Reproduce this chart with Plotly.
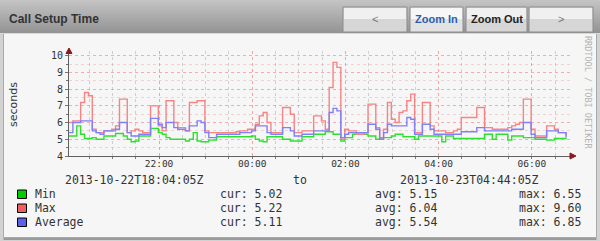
import pandas as pd
import plotly.graph_objects as go

# ---------------- data ----------------
start_time = "2013-10-22 20:04:05"
step_minutes = 5
max_vals = [6.0, 6.1, 6.1, 7.2, 7.8, 7.6, 5.6, 5.4, 5.4, 5.5,
            5.5, 5.6, 5.8, 7.4, 7.4, 5.4, 5.5, 5.6, 5.5, 5.4,
            5.4, 7.0, 7.0, 5.8, 5.5, 7.3, 7.3, 6.0, 5.7, 5.7,
            5.5, 7.2, 7.2, 7.3, 7.3, 5.5, 5.4, 5.4, 5.4, 5.4,
            5.4, 5.4, 5.4, 5.45, 5.5, 5.5, 5.6, 5.6, 5.9, 6.4,
            6.6, 6.0, 5.4, 5.4, 5.4, 6.9, 6.9, 6.5, 5.4, 5.4,
            5.5, 5.5, 5.5, 6.4, 6.4, 6.1, 5.6, 8.1, 9.6, 9.3,
            5.0, 5.6, 5.5, 5.5, 5.3, 5.3, 5.4, 7.1, 7.1, 5.7,
            5.0, 5.6, 7.2, 6.2, 6.0, 6.6, 6.7, 7.3, 7.7, 5.4,
            5.4, 7.2, 7.2, 5.8, 5.5, 5.5, 5.5, 5.4, 5.4, 5.5,
            5.6, 6.3, 6.3, 6.3, 6.3, 6.9, 6.9, 5.7, 5.7, 5.6,
            5.6, 5.6, 5.6, 5.7, 5.8, 5.9, 6.0, 7.4, 7.4, 5.6,
            5.2, 5.2, 5.2, 5.8, 5.8, 5.6, 5.4, 5.4, 5.22]
avg_vals = [5.4, 6.0, 6.0, 6.1, 6.1, 6.1, 5.5, 5.4, 5.3, 5.5,
            5.5, 5.5, 5.6, 6.0, 6.0, 5.4, 5.2, 5.2, 5.3, 5.3,
            5.3, 6.25, 6.25, 5.9, 5.7, 6.0, 6.0, 5.7, 5.6, 5.6,
            5.5, 5.8, 5.8, 6.1, 6.0, 5.4, 5.1, 5.1, 5.3, 5.3,
            5.3, 5.3, 5.3, 5.3, 5.4, 5.4, 5.4, 5.5, 5.8, 5.8,
            5.8, 5.4, 5.3, 5.3, 5.3, 5.7, 5.7, 5.5, 5.2, 5.2,
            5.3, 5.3, 5.3, 5.5, 5.5, 5.5, 5.5, 6.6, 6.85, 6.7,
            5.1, 5.3, 5.4, 5.4, 5.4, 5.4, 5.4, 5.9, 5.9, 5.6,
            5.0, 5.4, 5.9, 5.8, 5.8, 5.8, 5.8, 6.3, 6.2, 5.3,
            5.3, 5.9, 5.9, 5.6, 5.3, 5.3, 5.3, 5.3, 5.3, 5.3,
            5.3, 5.45, 5.45, 5.45, 5.45, 5.7, 5.7, 5.5, 5.5, 5.5,
            5.5, 5.5, 5.5, 5.5, 5.6, 5.6, 5.6, 6.0, 6.0, 5.3,
            5.1, 5.1, 5.1, 5.5, 5.5, 5.5, 5.4, 5.4, 5.11]
min_vals = [5.2, 5.2, 5.8, 5.3, 5.05, 5.05, 5.1, 5.0, 5.0, 5.2,
            5.2, 5.2, 5.35, 5.35, 5.2, 5.0, 4.85, 4.9, 5.2, 5.2,
            5.2, 5.65, 5.65, 5.4, 5.3, 5.1, 5.0, 5.0, 5.0, 5.0,
            4.9, 5.0, 5.4, 4.9, 4.85, 4.85, 4.95, 4.95, 5.15, 5.15,
            5.15, 5.15, 5.15, 5.15, 5.15, 5.15, 5.15, 5.2, 5.0, 4.9,
            4.85, 5.15, 5.15, 5.15, 5.15, 5.0, 5.0, 4.9, 4.9, 4.9,
            5.15, 5.15, 5.15, 5.3, 5.3, 5.3, 5.45, 5.45, 5.3, 5.3,
            4.9, 5.1, 5.1, 5.3, 5.3, 5.3, 5.3, 5.2, 5.2, 5.0,
            5.1, 5.1, 5.1, 5.2, 5.3, 5.3, 5.15, 5.15, 5.15, 5.0,
            5.2, 5.2, 5.2, 5.2, 5.2, 5.2, 4.85, 5.2, 5.2, 5.05,
            5.05, 5.05, 5.05, 5.05, 5.05, 5.05, 5.05, 5.3, 5.3, 5.0,
            5.3, 5.3, 5.3, 4.95, 5.2, 5.2, 5.2, 5.1, 5.1, 5.1,
            5.0, 5.0, 5.0, 4.95, 4.95, 5.05, 5.05, 5.05, 5.02]

series_names = ["Min", "Max", "Average"]
legend_cur = ["5.02", "5.22", "5.11"]
legend_avg = ["5.15", "6.04", "5.54"]
legend_max = ["6.55", "9.60", "6.85"]
range_from = "2013-10-22T18:04:05Z"
range_to = "2013-10-23T04:44:05Z"
title_text = "Call Setup Time"
y_title = "seconds"
y_range = [4, 10.28]
x_end = "2013-10-23 06:53:00"

# ---------------- layout helpers ----------------
W, H = 600, 241
L, R, T, B = 69, 27, 51, 85
PW, PH = W - L - R, H - T - B


def px(x):
    return (x - L) / PW


def py(y):
    return (T + PH - y) / PH


times = pd.date_range(start_time, periods=len(max_vals), freq=f"{step_minutes}min")

line_colors = ["#2ee02e", "#f58484", "#8080f8"]
box_colors = ["#00cc00", "#ee5f5f", "#5f5fee"]
series_vals = [min_vals, max_vals, avg_vals]

fig = go.Figure()
for name, vals, col in zip(series_names, series_vals, line_colors):
    fig.add_trace(go.Scatter(x=times, y=vals, mode="lines", name=name,
                             line=dict(color=col, width=1.4, shape="hv"),
                             showlegend=False, hoverinfo="skip"))

shapes = []
annotations = []

# outer content frame
shapes.append(dict(type="rect", xref="paper", yref="paper", layer="below",
                   x0=px(3.5), x1=px(596.5), y0=py(237.5), y1=py(33),
                   fillcolor="#f6f6f6", line=dict(color="#a9a9a9", width=1)))
shapes.append(dict(type="line", xref="paper", yref="paper", layer="below",
                   x0=px(3.5), x1=px(596.5), y0=py(239), y1=py(239),
                   line=dict(color="#9a9a9a", width=2)))

# header gradient
top_c = (196, 196, 196)
bot_c = (148, 148, 148)
n_band = 33
for i in range(n_band):
    f = i / (n_band - 1)
    c = tuple(int(top_c[k] + (bot_c[k] - top_c[k]) * f) for k in range(3))
    shapes.append(dict(type="rect", xref="paper", yref="paper", layer="below",
                       x0=px(0), x1=px(600), y0=py(i + 1), y1=py(i),
                       fillcolor="rgb(%d,%d,%d)" % c, line=dict(width=0)))
shapes.append(dict(type="line", xref="paper", yref="paper", layer="below",
                   x0=px(0), x1=px(600), y0=py(33.5), y1=py(33.5),
                   line=dict(color="#d8d8d8", width=1)))

annotations.append(dict(text="<b>" + title_text + "</b>", xref="paper", yref="paper",
                        x=px(7), y=py(19.5), xanchor="left", yanchor="middle",
                        showarrow=False, font=dict(family="Liberation Sans", size=12, color="#333333")))

# buttons
buttons = [("<", 343, 407, "#777777", False, False),
           ("Zoom In", 410, 463, "#2a5fae", True, True),
           ("Zoom Out", 466, 527, "#222222", True, False),
           (">", 529, 593, "#777777", False, False)]
for label, bx0, bx1, tcol, bold, active in buttons:
    top = "#f7f7f7" if active else "#f0f0f0"
    bot = "#e2e2e2" if active else "#d6d6d6"
    shapes.append(dict(type="rect", xref="paper", yref="paper", layer="below",
                       x0=px(bx0), x1=px(bx1), y0=py(32), y1=py(7),
                       fillcolor=bot, line=dict(color="#8c8c8c", width=1)))
    shapes.append(dict(type="rect", xref="paper", yref="paper", layer="below",
                       x0=px(bx0 + 1), x1=px(bx1 - 1), y0=py(19), y1=py(8),
                       fillcolor=top, line=dict(width=0)))
    txt = "<b>" + label + "</b>" if bold else label
    annotations.append(dict(text=txt, xref="paper", yref="paper",
                            x=px((bx0 + bx1) / 2), y=py(19.5), xanchor="center", yanchor="middle",
                            showarrow=False, font=dict(family="Liberation Sans", size=11, color=tcol)))

# axis arrows
shapes.append(dict(type="path", xref="paper", yref="paper", layer="above",
                   path="M %f %f L %f %f L %f %f Z" % (px(66), py(53.5), px(72), py(53.5), px(69), py(48)),
                   fillcolor="#8b1a1a", line=dict(color="#8b1a1a", width=1)))
shapes.append(dict(type="path", xref="paper", yref="paper", layer="above",
                   path="M %f %f L %f %f L %f %f Z" % (px(570), py(153), px(570), py(159), px(576), py(156)),
                   fillcolor="#8b1a1a", line=dict(color="#8b1a1a", width=1)))

# y title and watermark
annotations.append(dict(text=y_title, xref="paper", yref="paper", x=px(13), y=py(105),
                        xanchor="center", yanchor="middle", textangle=-90, showarrow=False,
                        font=dict(family="DejaVu Sans", size=11, color="#333333")))
annotations.append(dict(text="RRDTOOL / TOBI OETIKER", xref="paper", yref="paper", x=px(588), y=py(92),
                        xanchor="center", yanchor="middle", textangle=90, showarrow=False,
                        font=dict(family="DejaVu Sans Mono", size=8.5, color="#b4b4b4")))

mono = "DejaVu Sans Mono"
lfont = dict(family=mono, size=11.5, color="#333333")
annotations.append(dict(text=range_from, xref="paper", yref="paper", x=px(63), y=py(180),
                        xanchor="left", yanchor="middle", showarrow=False, font=lfont))
annotations.append(dict(text="to", xref="paper", yref="paper", x=px(299.5), y=py(180),
                        xanchor="center", yanchor="middle", showarrow=False, font=lfont))
annotations.append(dict(text=range_to, xref="paper", yref="paper", x=px(398), y=py(180),
                        xanchor="left", yanchor="middle", showarrow=False, font=lfont))

row_y = [194, 208, 222]
for name, yy, bc, cur, avg, mx in zip(series_names, row_y, box_colors, legend_cur, legend_avg, legend_max):
    shapes.append(dict(type="rect", xref="paper", yref="paper", layer="above",
                       x0=px(17.5), x1=px(26.5), y0=py(yy + 4.5), y1=py(yy - 4),
                       fillcolor=bc, line=dict(color="#000000", width=1)))
    annotations.append(dict(text=name, xref="paper", yref="paper", x=px(33), y=py(yy),
                            xanchor="left", yanchor="middle", showarrow=False, font=lfont))
    annotations.append(dict(text="cur: " + cur, xref="paper", yref="paper", x=px(218), y=py(yy),
                            xanchor="left", yanchor="middle", showarrow=False, font=lfont))
    annotations.append(dict(text="avg: " + avg, xref="paper", yref="paper", x=px(373), y=py(yy),
                            xanchor="left", yanchor="middle", showarrow=False, font=lfont))
    annotations.append(dict(text="max: " + mx, xref="paper", yref="paper", x=px(517), y=py(yy),
                            xanchor="left", yanchor="middle", showarrow=False, font=lfont))

fig.update_layout(
    width=W, height=H,
    margin=dict(l=L, r=R, t=T, b=B, pad=0),
    paper_bgcolor="#d2d2d2",
    plot_bgcolor="#ffffff",
    shapes=shapes,
    annotations=annotations,
    showlegend=False,
    xaxis=dict(type="date", range=[start_time, x_end],
               tick0="2013-10-22 00:00", dtick=2 * 3600 * 1000, tickformat="%H:%M",
               showgrid=True, gridcolor="rgba(255,60,60,0.45)", griddash="dot", gridwidth=1,
               minor=dict(dtick=30 * 60 * 1000, showgrid=True, gridcolor="rgba(160,160,160,0.45)",
                          griddash="dot", ticks="outside", ticklen=2, tickcolor="#777777"),
               ticks="outside", ticklen=2, tickcolor="#777777", ticklabelstandoff=-3,
               showline=True, linecolor="#606060", linewidth=1, zeroline=False,
               tickfont=dict(family=mono, size=9.5, color="#333333"), fixedrange=True),
    yaxis=dict(range=y_range, dtick=1, tick0=0,
               showgrid=True, gridcolor="rgba(255,60,60,0.40)", griddash="dot", gridwidth=1,
               minor=dict(dtick=0.5, showgrid=True, gridcolor="rgba(235,140,140,0.35)",
                          griddash="dot", ticks="outside", ticklen=2, tickcolor="#777777"),
               ticks="outside", ticklen=3, tickcolor="#777777",
               showline=True, linecolor="#606060", linewidth=1, zeroline=False,
               tickfont=dict(family=mono, size=10, color="#333333"), fixedrange=True),
)

fig.write_html("out.html", config={"displayModeBar": False})
